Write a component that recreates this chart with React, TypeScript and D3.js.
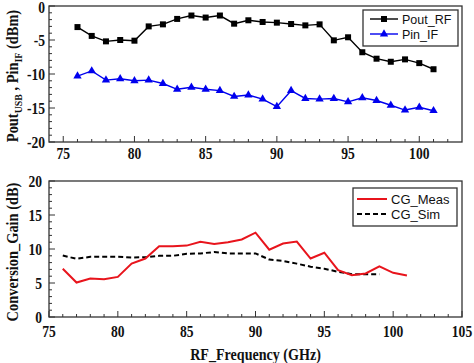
import React from "react";
import * as d3 from "d3";

const freqTop = [76,77,78,79,80,81,82,83,84,85,86,87,88,89,90,91,92,93,94,95,96,97,98,99,100,101];
const poutRF = [-3.1,-4.4,-5.2,-5.0,-5.1,-3.0,-2.7,-1.9,-1.4,-1.7,-1.4,-2.6,-2.1,-2.35,-2.45,-2.65,-2.85,-2.7,-5.05,-4.6,-6.8,-7.75,-8.2,-7.85,-8.4,-9.3];
const pinIF = [-10.3,-9.55,-10.9,-10.7,-11.0,-10.9,-11.4,-12.25,-11.95,-12.25,-12.45,-13.3,-13.1,-13.7,-14.8,-12.45,-13.6,-13.7,-13.6,-14.1,-13.5,-13.9,-14.6,-15.3,-14.9,-15.4];

const freqMeas = [76,77,78,79,80,81,82,83,84,85,86,87,88,89,90,91,92,93,94,95,96,97,98,99,100,101];
const cgMeas = [7.1,5.07,5.65,5.55,5.9,7.85,8.6,10.4,10.4,10.5,11.05,10.75,11.0,11.4,12.4,9.9,10.8,11.1,8.6,9.45,6.9,6.15,6.4,7.45,6.5,6.1];
const freqSim = [76,77,78,79,80,81,82,83,84,85,86,87,88,89,90,91,92,93,94,95,96,97,98,99];
const cgSim = [9.05,8.55,8.85,8.85,8.85,8.75,8.8,9.0,9.0,9.3,9.35,9.55,9.35,9.35,9.35,8.45,8.25,7.85,7.4,7.1,6.65,6.3,6.3,6.3];

const topXTicks = [75,80,85,90,95,100];
const topYTicks = [0,-5,-10,-15,-20];
const botXTicks = [75,80,85,90,95,100,105];
const botYTicks = [0,5,10,15,20];

const SERIF = "'Liberation Serif', 'Times New Roman', serif";
const SANS = "'Liberation Sans', Arial, sans-serif";
const FRAME = "#333";

function Label({ x, y, anchor, children, size = 17, sx = 0.8 }: any) {
  return (
    <text transform={`translate(${x},${y}) scale(${sx},1)`} textAnchor={anchor} fontFamily={SERIF} fontWeight="bold" fontSize={size} fill="#111">
      {children}
    </text>
  );
}

function Panel({ xs, ys, xTicks, yTicks, xMinor, yMinor, xLabelY, yLabelX }: any) {
  const [x0, x1] = xs.range();
  const [y0, y1] = ys.range();
  return (
    <g>
      {xMinor.map((t: number) => {
        const major = xTicks.includes(t);
        return <line key={"xm" + t} x1={xs(t)} x2={xs(t)} y1={y0} y2={y0 - (major ? 6 : 3)} stroke={FRAME} strokeWidth={1} />;
      })}
      {yMinor.map((t: number) => {
        const major = yTicks.includes(t);
        return <line key={"ym" + t} x1={x0} x2={x0 + (major ? 6 : 3)} y1={ys(t)} y2={ys(t)} stroke={FRAME} strokeWidth={1} />;
      })}
      <rect x={x0} y={y1} width={x1 - x0} height={y0 - y1} fill="none" stroke={FRAME} strokeWidth={1.3} />
      {xTicks.map((t: number) => (
        <Label key={"xl" + t} x={xs(t)} y={xLabelY} anchor="middle">{t}</Label>
      ))}
      {yTicks.map((t: number) => (
        <Label key={"yl" + t} x={yLabelX} y={Math.max(ys(t) + 5.8, 12.5)} anchor="end">{t}</Label>
      ))}
    </g>
  );
}

export default function App() {
  const xTop = d3.scaleLinear().domain([74, 103]).range([49, 462]);
  const yTop = d3.scaleLinear().domain([-20, 0]).range([142, 6]);
  const xBot = d3.scaleLinear().domain([75, 105]).range([49, 462]);
  const yBot = d3.scaleLinear().domain([0, 20]).range([317, 181]);

  const lineTop = (vals: number[]) =>
    d3.line<number>().x((_, i) => xTop(freqTop[i])).y((v) => yTop(v))(vals) as string;
  const lineMeas = d3.line<number>().x((_, i) => xBot(freqMeas[i])).y((v) => yBot(v))(cgMeas) as string;
  const lineSim = d3.line<number>().x((_, i) => xBot(freqSim[i])).y((v) => yBot(v))(cgSim) as string;

  const tri = d3.symbol().type(d3.symbolTriangle).size(30)() as string;

  return (
    <svg width={474} height={363} style={{ position: "absolute", left: 0, top: 0, background: "#fff" }}>
      <rect width={474} height={363} fill="#fff" />
      <Panel xs={xTop} ys={yTop} xTicks={topXTicks} yTicks={topYTicks}
        xMinor={d3.range(75, 103)} yMinor={d3.range(-20, 1)} xLabelY={159} yLabelX={45} />
      <Panel xs={xBot} ys={yBot} xTicks={botXTicks} yTicks={botYTicks}
        xMinor={d3.range(75, 106)} yMinor={d3.range(0, 21)} xLabelY={337} yLabelX={42} />

      {/* top series */}
      <path d={lineTop(poutRF)} fill="none" stroke="#000" strokeWidth={1.4} />
      {poutRF.map((v, i) => (
        <rect key={"s" + i} x={xTop(freqTop[i]) - 3} y={yTop(v) - 3} width={6} height={6} fill="#000" />
      ))}
      <path d={lineTop(pinIF)} fill="none" stroke="#0000ee" strokeWidth={1.4} />
      {pinIF.map((v, i) => (
        <path key={"t" + i} d={tri} transform={`translate(${xTop(freqTop[i])},${yTop(v)})`} fill="#0000ee" />
      ))}

      {/* bottom series */}
      <path d={lineSim} fill="none" stroke="#000" strokeWidth={2} strokeDasharray="5,3" />
      <path d={lineMeas} fill="none" stroke="#e8141c" strokeWidth={2} />

      {/* top legend */}
      <rect x={363} y={10} width={95} height={36} fill="#fff" stroke={FRAME} strokeWidth={1.3} />
      <line x1={370} x2={398} y1={19} y2={19} stroke="#000" strokeWidth={1.4} />
      <rect x={381} y={16} width={6} height={6} fill="#000" />
      <text x={402} y={23.5} fontFamily={SANS} fontSize={12.5} fill="#111">Pout_RF</text>
      <line x1={370} x2={398} y1={34} y2={34} stroke="#0000ee" strokeWidth={1.4} />
      <path d={tri} transform="translate(384,34)" fill="#0000ee" />
      <text x={402} y={38.5} fontFamily={SANS} fontSize={12.5} fill="#111">Pin_IF</text>

      {/* bottom legend */}
      <rect x={353} y={188} width={104} height={38} fill="#fff" stroke={FRAME} strokeWidth={1.3} />
      <line x1={357} x2={387} y1={199} y2={199} stroke="#e8141c" strokeWidth={2} />
      <text x={391} y={203.5} fontFamily={SANS} fontSize={13} fill="#111">CG_Meas</text>
      <line x1={357} x2={387} y1={214} y2={214} stroke="#000" strokeWidth={2} strokeDasharray="5,3" />
      <text x={391} y={218.5} fontFamily={SANS} fontSize={13} fill="#111">CG_Sim</text>

      {/* axis titles */}
      <text transform="translate(255.5,360) scale(0.88,1)" textAnchor="middle" fontFamily={SERIF} fontWeight="bold" fontSize={16} fill="#111">RF_Frequency (GHz)</text>
      <text transform="translate(18,76) rotate(-90) scale(0.9,1)" textAnchor="middle" fontFamily={SERIF} fontWeight="bold" fontSize={16} fill="#111">
        Pout<tspan fontSize={11} dy={4}>USB</tspan><tspan dy={-4}> , Pin</tspan><tspan fontSize={11} dy={4}>IF</tspan><tspan dy={-4}> (dBm)</tspan>
      </text>
      <text transform="translate(18,252) rotate(-90) scale(0.9,1)" textAnchor="middle" fontFamily={SERIF} fontWeight="bold" fontSize={16} fill="#111">Conversion_Gain (dB)</text>
    </svg>
  );
}
